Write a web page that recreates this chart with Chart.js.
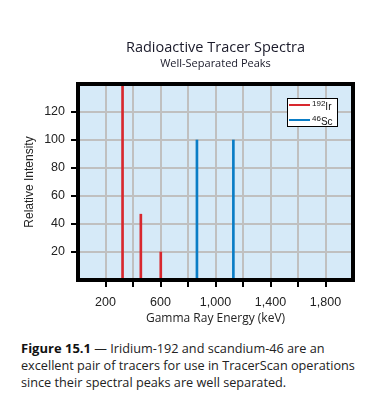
<!DOCTYPE html>
<html>
<head>
<meta charset="utf-8">
<script src="https://cdn.jsdelivr.net/npm/chart.js@4"></script>
<style>
  html, body { margin: 0; padding: 0; background: #fff; }
  #wrap { position: relative; width: 376px; height: 410px; }
  #chart { position: absolute; left: 0; top: 0; }
  #caption {
    position: absolute; left: 21px; top: 340px; width: 350px;
    font-family: "Open Sans", sans-serif; font-size: 12.7px; line-height: 17px;
    color: #222;
  }
  #caption b { color: #111; font-size: 13px; }
</style>
</head>
<body>
<div id="wrap">
  <canvas id="chart" width="376" height="330"></canvas>
  <div id="caption"><b>Figure 15.1</b> — Iridium-192 and scandium-46 are an excellent pair of tracers for use in TracerScan operations since their spectral peaks are well separated.</div>
</div>
<script>
// ---- data ----
const irEnergy = [324, 457, 602];      // keV
const irIntensity = [150, 47, 20];     // first peak runs off the top
const scEnergy = [865, 1130];
const scIntensity = [100, 100];
const isotopes = ['Ir', 'Sc'];
const massNumbers = ['192', '46'];
const xLabelled = [200, 600, 1000, 1400, 1800];
const yLabelled = [20, 40, 60, 80, 100, 120];

const RED = '#d8282e';
const BLUE = '#0a7dc6';
const FONT = '"Liberation Sans", Arial, sans-serif';

function pts(xs, ys) {
  return xs.map((x, i) => ({ x: x, y: ys[i] }));
}

// plot background + black frame
const framePlugin = {
  id: 'frame',
  beforeDraw(chart) {
    const a = chart.chartArea, c = chart.ctx;
    c.save();
    c.fillStyle = '#d6eaf8';
    c.fillRect(a.left, a.top, a.right - a.left, a.bottom - a.top);
    c.restore();
  },
  afterDraw(chart) {
    const a = chart.chartArea, c = chart.ctx;
    c.save();
    c.strokeStyle = '#000';
    c.lineWidth = 4;
    c.strokeRect(a.left, a.top, a.right - a.left, a.bottom - a.top);
    c.restore();
  }
};

// title + subtitle centred on the plot
const titlePlugin = {
  id: 'titles',
  afterDraw(chart) {
    const a = chart.chartArea, c = chart.ctx;
    const cx = (a.left + a.right) / 2;
    c.save();
    c.fillStyle = '#1a1a2a';
    c.textAlign = 'center';
    c.textBaseline = 'alphabetic';
    c.font = '14.5px "Open Sans", sans-serif';
    c.fillText('Radioactive Tracer Spectra', cx, 52);
    c.font = '11px "Open Sans", sans-serif';
    c.fillText('Well-Separated Peaks', cx, 67);
    c.restore();
  }
};

// boxed legend with superscript mass numbers
const legendPlugin = {
  id: 'boxLegend',
  afterDraw(chart) {
    const c = chart.ctx;
    const x0 = 287, y0 = 98, w = 50, h = 28;
    c.save();
    c.fillStyle = '#fff';
    c.fillRect(x0, y0, w, h);
    c.strokeStyle = '#000';
    c.lineWidth = 1;
    c.strokeRect(x0 + 0.5, y0 + 0.5, w, h);
    chart.data.datasets.forEach((ds, i) => {
      const y = y0 + 7 + i * 15;
      c.strokeStyle = ds.borderColor;
      c.lineWidth = 2;
      c.beginPath();
      c.moveTo(x0 + 2, y);
      c.lineTo(x0 + 23, y);
      c.stroke();
      c.fillStyle = '#111';
      c.textBaseline = 'alphabetic';
      c.textAlign = 'left';
      c.font = '8px ' + FONT;
      c.fillText(massNumbers[i], x0 + 25, y + 1);
      const mw = c.measureText(massNumbers[i]).width;
      c.font = '10px ' + FONT;
      c.fillText(isotopes[i], x0 + 25 + mw, y + 5);
    });
    c.restore();
  }
};

new Chart(document.getElementById('chart'), {
  type: 'bar',
  data: {
    datasets: [
      { label: '192Ir', data: pts(irEnergy, irIntensity), backgroundColor: RED, borderColor: RED },
      { label: '46Sc', data: pts(scEnergy, scIntensity), backgroundColor: BLUE, borderColor: BLUE }
    ]
  },
  options: {
    responsive: false,
    animation: false,
    grouped: false,
    barThickness: 2,
    layout: { padding: { top: 84, right: 23, left: 0, bottom: 0 } },
    plugins: { legend: { display: false }, tooltip: { enabled: false } },
    scales: {
      x: {
        type: 'linear', min: 0, max: 2000, offset: false,
        afterFit: s => { s.height = 50; },
        afterBuildTicks: s => { s.ticks = []; for (let v = 0; v <= 2000; v += 200) s.ticks.push({ value: v }); },
        grid: {
          offset: false, color: '#c0c0c0', lineWidth: 2, tickLength: 7,
          tickColor: ctx => (ctx.tick && (ctx.tick.value === 0 || ctx.tick.value === 2000)) ? 'rgba(0,0,0,0)' : '#000',
          tickWidth: 2
        },
        border: { display: false },
        ticks: {
          autoSkip: false, maxRotation: 0, padding: 8,
          color: '#222', font: { family: FONT, size: 12.5 },
          callback: v => xLabelled.includes(v) ? v.toLocaleString('en-US') : ''
        },
        title: {
          display: true, text: 'Gamma Ray Energy (keV)', color: '#222',
          font: { family: '"Open Sans", sans-serif', size: 12 }, padding: { top: 0, bottom: 4 }
        }
      },
      y: {
        min: 0, max: 140,
        afterFit: s => { s.width = 78; },
        afterBuildTicks: s => { s.ticks = []; for (let v = 0; v <= 140; v += 20) s.ticks.push({ value: v }); },
        grid: {
          color: '#c0c0c0', lineWidth: 2, tickLength: 7,
          tickColor: ctx => (ctx.tick && (ctx.tick.value === 0 || ctx.tick.value === 140)) ? 'rgba(0,0,0,0)' : '#000',
          tickWidth: 2
        },
        border: { display: false },
        ticks: {
          padding: 6, color: '#222', font: { family: FONT, size: 12.5 },
          callback: v => yLabelled.includes(v) ? String(v) : ''
        },
        title: {
          display: true, text: 'Relative Intensity', color: '#222',
          font: { family: FONT, size: 12 }, padding: { top: 22, bottom: 0 }
        }
      }
    }
  },
  plugins: [framePlugin, titlePlugin, legendPlugin]
});
</script>
</body>
</html>
